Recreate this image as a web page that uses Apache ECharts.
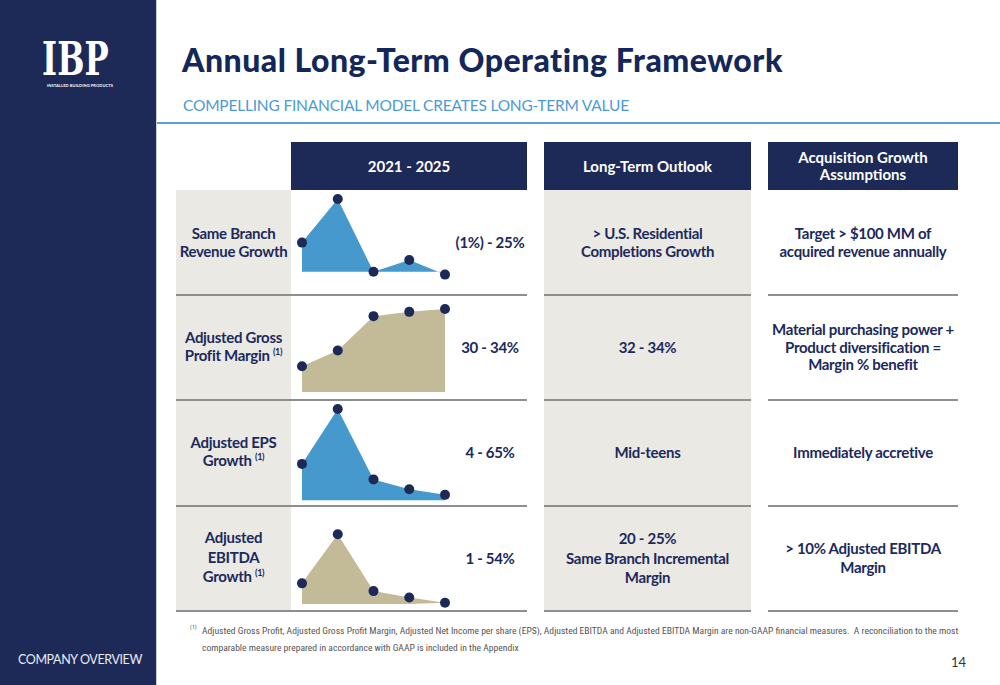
<!DOCTYPE html>
<html>
<head>
<meta charset="utf-8">
<script src="https://cdn.jsdelivr.net/npm/echarts@6/dist/echarts.min.js"></script>
<style>
  body { margin: 0; background: #fff; }
  #slide { position: relative; width: 1000px; height: 685px; overflow: hidden; font-family: Lato, sans-serif; color: #1b2a5c; }
  .abs { position: absolute; }
  .side { left: 0; top: 0; width: 156px; height: 685px; background: #1d2957; border-right: 1px solid #c9cedb; }
  .logo { left: 40px; top: 35px; width: 80px; color: #fff; font-family: "DejaVu Serif", serif; font-weight: bold; font-size: 46px; line-height: 48px; transform: scaleX(0.7); transform-origin: 7px 0; }
  .logo-sub { left: 47px; top: 83px; color: #fff; font-size: 4px; font-weight: bold; letter-spacing: 0.1px; }
  .overview { left: 18px; top: 652px; color: #e9ecf4; font-size: 12.5px; letter-spacing: -0.4px; }
  .title { left: 182px; top: 40px; font-size: 32px; font-weight: 900; color: #13275b; white-space: nowrap; letter-spacing: 0.5px; }
  .subtitle { left: 183px; top: 96px; font-size: 15.5px; color: #4d9ad3; white-space: nowrap; letter-spacing: -0.2px; }
  .rule { left: 157px; top: 122px; width: 843px; height: 2px; background: #5a9fd5; }
  .hdr { top: 142px; height: 48px; background: #1d2957; color: #fff; font-weight: bold; font-size: 15px; display: flex; align-items: center; justify-content: center; text-align: center; line-height: 17px; white-space: nowrap; }
  .gray { background: #ebe9e4; }
  .sep { height: 2px; background: #8e8e8e; }
  .cell { display: flex; align-items: center; justify-content: center; text-align: center; font-weight: bold; font-size: 15px; line-height: 17.5px; white-space: nowrap; letter-spacing: -0.3px; }
  .sp { position: relative; top: -6px; font-size: 9px; }
  .foot { left: 202px; top: 622px; width: 770px; font-family: "Liberation Sans Narrow", "Roboto Condensed", sans-serif; font-size: 9.6px; line-height: 17px; color: #555; }
  .page { left: 951px; top: 654px; font-size: 13px; color: #333; }
  #chart { position: absolute; left: 0; top: 0; width: 1000px; height: 685px; z-index: 2; }
</style>
</head>
<body>
<div id="slide">
  <div class="abs side"></div>
  <div class="abs logo">IBP</div>
  <div class="abs logo-sub">INSTALLED BUILDING PRODUCTS</div>
  <div class="abs overview">COMPANY OVERVIEW</div>

  <div class="abs title">Annual Long-Term Operating Framework</div>
  <div class="abs subtitle">COMPELLING FINANCIAL MODEL CREATES LONG-TERM VALUE</div>
  <div class="abs rule"></div>

  <!-- column backgrounds -->
  <div class="abs gray" style="left:176px; top:190px; width:115px; height:421px;"></div>
  <div class="abs gray" style="left:544px; top:190px; width:207px; height:421px;"></div>

  <!-- headers -->
  <div class="abs hdr" style="left:291px; width:236px;"><div>2021 - 2025</div></div>
  <div class="abs hdr" style="left:544px; width:207px;"><div>Long-Term Outlook</div></div>
  <div class="abs hdr" style="left:768px; width:190px;"><div>Acquisition Growth<br>Assumptions</div></div>

  <div id="cells"></div>

  <div class="abs foot"><span style="position:absolute; left:-12px; top:-4px; font-size:6px;">(1)</span>Adjusted Gross Profit, Adjusted Gross Profit Margin, Adjusted Net Income per share (EPS), Adjusted EBITDA and Adjusted EBITDA Margin are non-GAAP financial measures.&nbsp; A reconciliation to the most comparable measure prepared in accordance with GAAP is included in the Appendix</div>
  <div class="abs page">14</div>

  <div id="chart"></div>
</div>

<script>
// years on the mini charts
const years = ['2021', '2022', '2023', '2024', '2025'];

// series values (%)
const sameBranchRevenue = [10, 25, 0, 4, -1];
const grossProfitMargin = [30, 31.1, 33.5, 33.8, 34];
const epsGrowth = [26, 65, 15, 8, 4];
const ebitdaGrowth = [16, 54, 10, 5, 1];

// table text
const note = '<span class="sp">(1)</span>';
const rowLabels = [
  'Same Branch<br>Revenue Growth',
  'Adjusted Gross<br>Profit Margin ' + note,
  'Adjusted EPS<br>Growth ' + note,
  'Adjusted<br>EBITDA<br>Growth ' + note,
];
const rangeLabels = ['(1%) - 25%', '30 - 34%', '4 - 65%', '1 - 54%'];
const outlookLabels = [
  '&gt; U.S. Residential<br>Completions Growth',
  '32 - 34%',
  'Mid-teens',
  '20 - 25%<br>Same Branch Incremental<br>Margin',
];
const acquisitionLabels = [
  'Target &gt; $100 MM of<br>acquired revenue annually',
  'Material purchasing power +<br>Product diversification =<br>Margin % benefit',
  'Immediately accretive',
  '&gt; 10% Adjusted EBITDA<br>Margin',
];

// row bands (px)
const rowTops = [190, 295, 400, 505.5];
const rowBottoms = [295, 400, 505.5, 611];

const cells = document.getElementById('cells');
let html = '';
rowTops.forEach((top, i) => {
  const h = rowBottoms[i] - top;
  const lh = i === 3 ? 'line-height:19.5px;' : '';
  html += `<div class="abs cell" style="left:176px; top:${top}px; width:115px; height:${h}px;${lh}"><div>${rowLabels[i]}</div></div>`;
  html += `<div class="abs cell" style="left:450px; top:${top}px; width:80px; height:${h}px;"><div>${rangeLabels[i]}</div></div>`;
  html += `<div class="abs cell" style="left:544px; top:${top}px; width:207px; height:${h}px;${lh}"><div>${outlookLabels[i]}</div></div>`;
  html += `<div class="abs cell" style="left:768px; top:${top}px; width:190px; height:${h}px;${lh}"><div>${acquisitionLabels[i]}</div></div>`;
  const sy = rowBottoms[i] - 1;
  html += `<div class="abs sep" style="left:176px; top:${sy}px; width:351px;"></div>`;
  html += `<div class="abs sep" style="left:544px; top:${sy}px; width:207px;"></div>`;
  html += `<div class="abs sep" style="left:768px; top:${sy}px; width:190px;"></div>`;
});
cells.innerHTML = html;

// mini charts
const blue = '#4699cd';
const tan = '#c3ba98';
const navy = '#1d2957';

const minis = [
  { data: sameBranchRevenue, color: blue, min: -1, max: 25, top: 199, height: 75.6 },
  { data: grossProfitMargin, color: tan, min: 28.2, max: 34, top: 309, height: 83 },
  { data: epsGrowth, color: blue, min: 0, max: 65, top: 409, height: 91.5 },
  { data: ebitdaGrowth, color: tan, min: 0, max: 54, top: 534.3, height: 69.7 },
];

const myEcharts = echarts.init(document.getElementById('chart'));
const option = {
  animation: false,
  grid: minis.map(m => ({ left: 302, width: 143, top: m.top, height: m.height })),
  xAxis: minis.map((m, i) => ({
    type: 'category',
    gridIndex: i,
    show: false,
    boundaryGap: false,
    data: years,
  })),
  yAxis: minis.map((m, i) => ({
    type: 'value',
    gridIndex: i,
    show: false,
    min: m.min,
    max: m.max,
  })),
  series: minis.map((m, i) => ({
    type: 'line',
    xAxisIndex: i,
    yAxisIndex: i,
    data: m.data,
    symbol: 'circle',
    symbolSize: 10,
    showSymbol: true,
    lineStyle: { width: 0, color: m.color },
    itemStyle: { color: navy },
    areaStyle: { color: m.color, opacity: 1 },
    z: 2,
  })),
};
myEcharts.setOption(option);
</script>
</body>
</html>
